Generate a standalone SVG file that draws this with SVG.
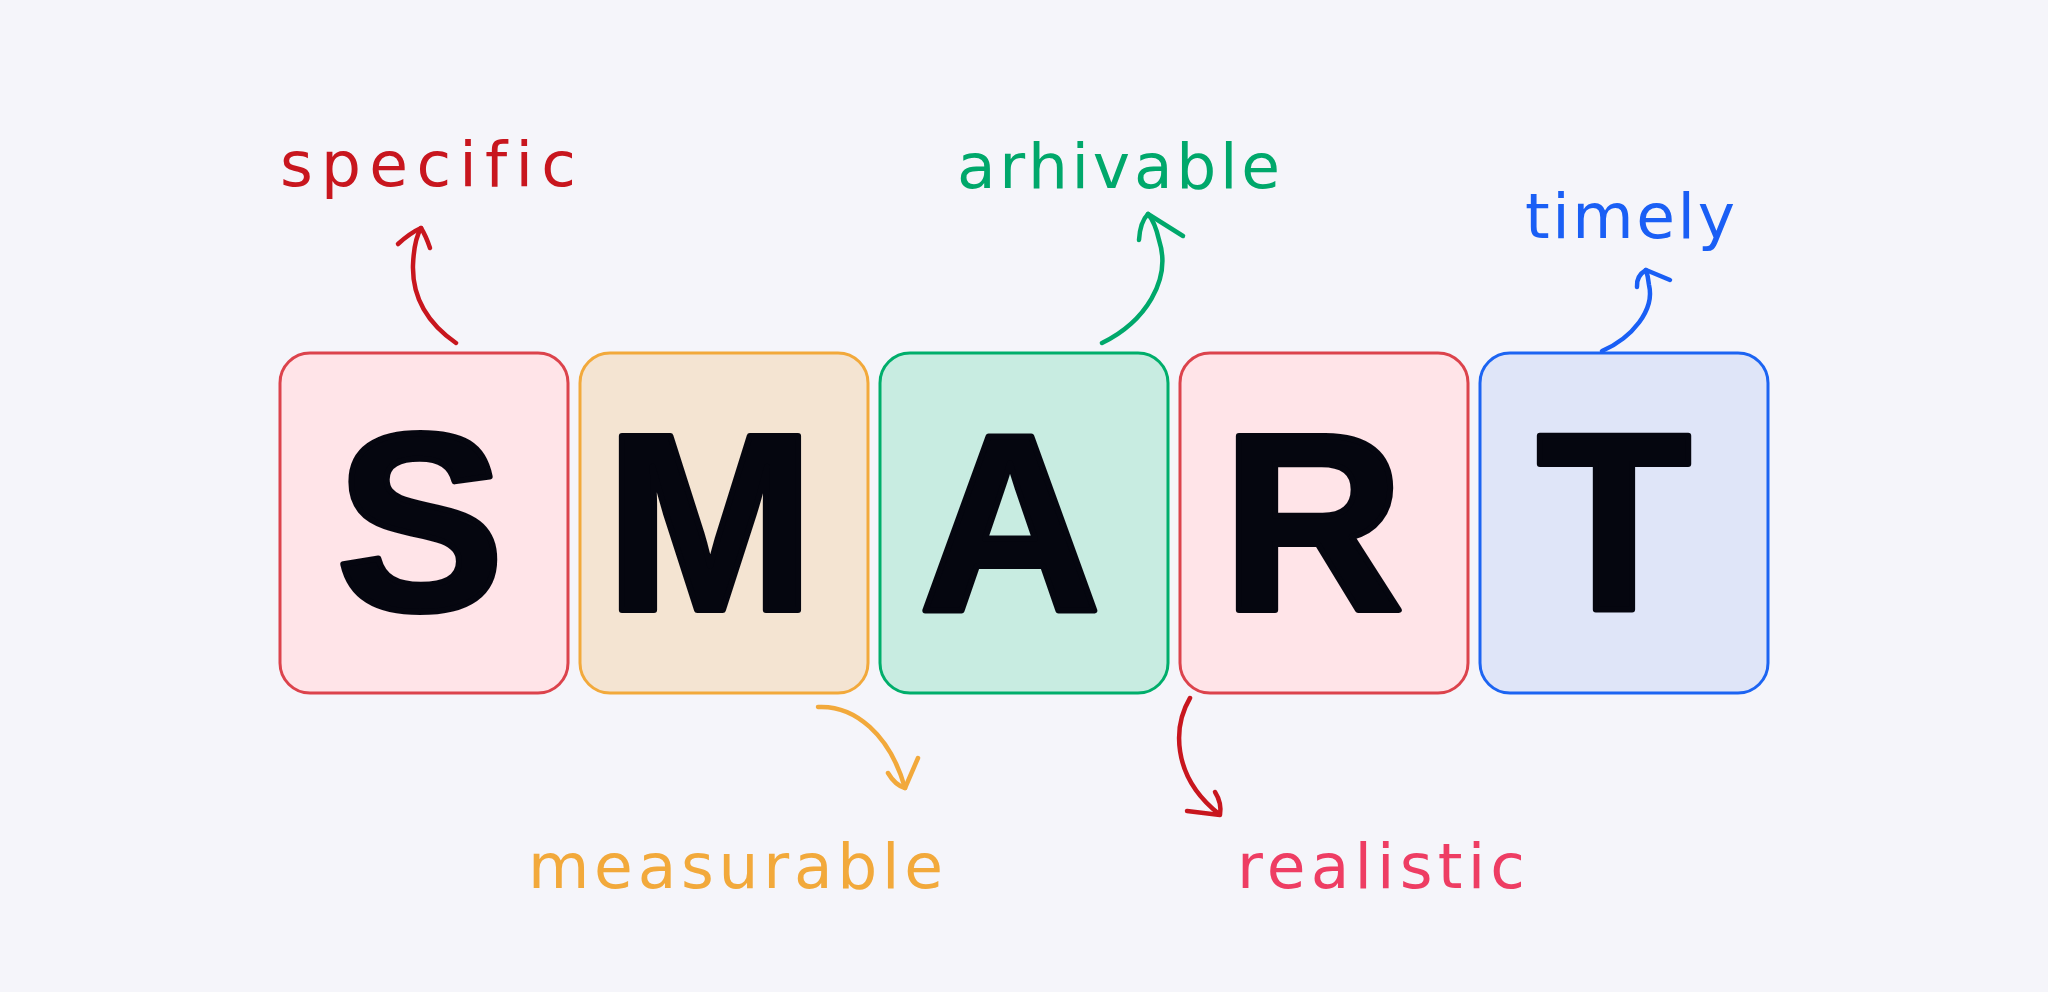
<svg xmlns="http://www.w3.org/2000/svg" width="2048" height="992" viewBox="0 0 2048 992">
<style>
.box{stroke-width:3}
.letter{font-family:"Liberation Sans",Arial,sans-serif;font-weight:bold;font-size:252px;fill:#05060f;stroke:#05060f;stroke-width:6;stroke-linejoin:round;text-anchor:middle}
.hand{font-family:"DejaVu Sans","Noto Sans",sans-serif;font-size:63px;font-variant-ligatures:none;font-feature-settings:"liga" 0}
.arrow{fill:none;stroke-width:4.5;stroke-linecap:round;stroke-linejoin:round}
</style>
<rect width="2048" height="992" fill="#f5f5fa"/>
<g id="node-S">
<rect class="box" x="280" y="353" width="288" height="340" rx="30" fill="#ffe4e8" stroke="#dc434c"/>
<text class="letter" x="420" y="610">S</text>
</g>
<g id="node-M">
<rect class="box" x="580" y="353" width="288" height="340" rx="30" fill="#f4e4d2" stroke="#f2a93b"/>
<text class="letter" x="710" y="610">M</text>
</g>
<g id="node-A">
<rect class="box" x="880" y="353" width="288" height="340" rx="30" fill="#c8ece1" stroke="#00ae6b"/>
<text class="letter" x="1010" y="610">A</text>
</g>
<g id="node-R">
<rect class="box" x="1180" y="353" width="288" height="340" rx="30" fill="#ffe4e8" stroke="#dc434c"/>
<text class="letter" x="1313" y="610">R</text>
</g>
<g id="node-T">
<rect class="box" x="1480" y="353" width="288" height="340" rx="30" fill="#dfe5f8" stroke="#1c64f2"/>
<text class="letter" x="1614" y="610">T</text>
</g>
<g id="label-specific"><text class="hand" x="280" y="186" textLength="296" lengthAdjust="spacing" fill="#c8161e">specific</text></g>
<g id="label-arhivable"><text class="hand" x="957" y="188" textLength="323" lengthAdjust="spacing" fill="#00a86b">arhivable</text></g>
<g id="label-timely"><text class="hand" x="1525" y="238" textLength="210" lengthAdjust="spacing" fill="#1a5ff5">timely</text></g>
<g id="label-measurable"><text class="hand" x="528" y="888" textLength="415" lengthAdjust="spacing" fill="#f2a93b">measurable</text></g>
<g id="label-realistic"><text class="hand" x="1237" y="888" textLength="288" lengthAdjust="spacing" fill="#ee3d63">realistic</text></g>
<g id="connectors">
<g stroke="#c8161e" class="arrow">
<path d="M456,343 C430,325 412,300 413,265 Q414,240 421,228"/>
<path d="M398,244 Q410,233 421,228 Q426,236 430,248"/>
</g>
<g stroke="#00a86b" class="arrow">
<path d="M1102,343 C1145,322 1172,280 1159,240 Q1155,222 1148,214"/>
<path d="M1139,240 Q1140,222 1148,214 L1183,236"/>
</g>
<g stroke="#1a5ff5" class="arrow">
<path d="M1602,351 C1632,338 1655,310 1649,285 Q1648,276 1646,270"/>
<path d="M1637,287 Q1636,276 1646,270 L1670,280"/>
</g>
<g stroke="#f2a93b" class="arrow">
<path d="M818,707 C855,705 890,735 905,788"/>
<path d="M888,773 Q895,785 905,788 L918,758"/>
</g>
<g stroke="#c8161e" class="arrow">
<path d="M1190,698 C1174,725 1170,775 1219,814"/>
<path d="M1215,792 Q1222,803 1220,815 L1187,811"/>
</g>
</g>
</svg>
